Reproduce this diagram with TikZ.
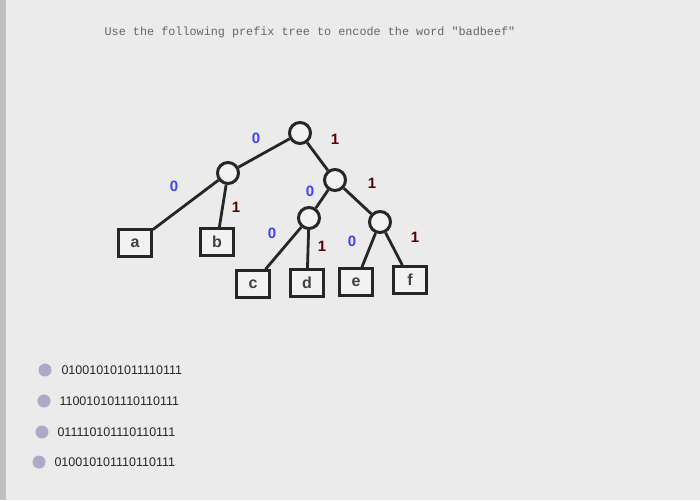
\documentclass[tikz,border=0pt]{standalone}
\usepackage{fontspec}
\setmainfont{Liberation Sans}
\setmonofont{Liberation Mono}
\begin{document}
\begin{tikzpicture}[x=1pt,y=-1pt,
  inner/.style={circle,draw=black!85,line width=3pt,minimum size=21pt,inner sep=0pt,fill=black!5},
  leaf/.style={rectangle,draw=black!85,line width=2.6pt,minimum width=33pt,minimum height=27pt,inner sep=0pt,fill=black!5,font=\bfseries\fontsize{16}{16}\selectfont,text=black!75},
  edge/.style={draw=black!85,line width=2.8pt},
  zero/.style={font=\bfseries\fontsize{15}{15}\selectfont,text=blue!75},
  one/.style={font=\bfseries\fontsize{15}{15}\selectfont,text=red!35!black},
  radio/.style={circle,fill=blue!20!gray!55,minimum size=13pt,inner sep=0pt},
  opt/.style={anchor=west,font=\fontsize{12.5}{12.5}\selectfont,text=black!85}]
\fill[black!8] (0,0) rectangle (700,500);
\fill[black!25] (0,0) rectangle (6,500);
\node[font=\ttfamily\fontsize{11.8}{12}\selectfont,text=black!60] (title) at (310,32) {Use the following prefix tree to encode the word "badbeef"};
\node[inner] (r) at (300,133) {};
\node[inner] (n0) at (228,173) {};
\node[inner] (n1) at (335,180) {};
\node[inner] (n10) at (309,218) {};
\node[inner] (n11) at (380,222) {};
\node[leaf] (a) at (135,243) {a};
\node[leaf] (b) at (217,242) {b};
\node[leaf] (c) at (253,284) {c};
\node[leaf] (d) at (307,283) {d};
\node[leaf] (e) at (356,282) {e};
\node[leaf] (f) at (410,280) {f};
\draw[edge] (r) -- (n0); \draw[edge] (r) -- (n1);
\draw[edge] (n0) -- (a); \draw[edge] (n0) -- (b);
\draw[edge] (n1) -- (n10); \draw[edge] (n1) -- (n11);
\draw[edge] (n10) -- (c); \draw[edge] (n10) -- (d);
\draw[edge] (n11) -- (e); \draw[edge] (n11) -- (f);
\node[zero] (l1) at (256,138) {0};
\node[one] (l2) at (335,139) {1};
\node[zero] (l3) at (174,186) {0};
\node[one] (l4) at (236,207) {1};
\node[zero] (l5) at (310,191) {0};
\node[one] (l6) at (372,183) {1};
\node[zero] (l7) at (272,233) {0};
\node[one] (l8) at (322,246) {1};
\node[zero] (l9) at (352,241) {0};
\node[one] (l10) at (415,237) {1};
\node[radio] (r1) at (45,370) {};
\node[radio] (r2) at (44,401) {};
\node[radio] (r3) at (42,432) {};
\node[radio] (r4) at (39,462) {};
\node[opt] (o1) at (58,370) {010010101011110111};
\node[opt] (o2) at (56,401) {110010101110110111};
\node[opt] (o3) at (54,432) {011110101110110111};
\node[opt] (o4) at (51,462) {010010101110110111};
\end{tikzpicture}
\end{document}
